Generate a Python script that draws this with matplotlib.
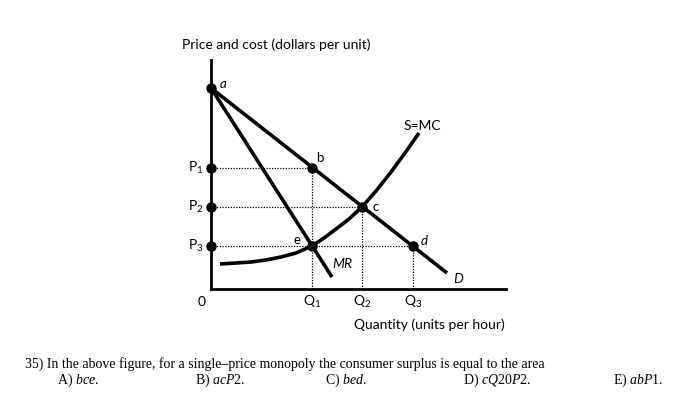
import matplotlib
matplotlib.use("Agg")
import matplotlib.pyplot as plt

# data (pixel-scale units)
D_x = [0, 236]; D_y = [201, 16]
MR_x = [0, 121]; MR_y = [201, 12]
MC_x = [9, 25, 40, 55, 70, 85, 101, 113, 125, 138, 151, 165, 180, 194, 208]
MC_y = [25, 26, 27, 29, 32, 36, 43, 51, 60, 70, 82, 98, 117, 136, 156]
pt_names = ["a", "b", "c", "d", "e"]
pt_x = [0, 101, 151, 202, 101]
pt_y = [201, 121, 82, 43, 43]
P_labels = ["1", "2", "3"]
P_vals = [121, 82, 43]
Q_labels = ["1", "2", "3"]
Q_vals = [101, 151, 202]

plt.rcParams['font.family'] = ['Lato', 'DejaVu Sans']
plt.rcParams['mathtext.fontset'] = 'custom'
plt.rcParams['mathtext.it'] = 'Liberation Serif:italic'
plt.rcParams['mathtext.rm'] = 'Liberation Serif'
plt.rcParams['mathtext.sf'] = 'Lato'
W, H = 700, 415
fig = plt.figure(figsize=(W/100, H/100), dpi=100)
ax = fig.add_axes([211/W, (H-289)/H, 295/W, 229/H])
ax.set_xlim(0, 295); ax.set_ylim(0, 229)
for s in ["top", "right"]:
    ax.spines[s].set_visible(False)
for s in ["left", "bottom"]:
    ax.spines[s].set_linewidth(2)
ax.set_xticks([]); ax.set_yticks([])

lw = 2.6
ax.plot(D_x, D_y, color="k", lw=lw, solid_capstyle="butt")
ax.plot(MR_x, MR_y, color="k", lw=lw, solid_capstyle="butt")
ax.plot(MC_x, MC_y, color="k", lw=lw, solid_capstyle="butt")

dot = dict(color="k", lw=0.9, ls=(0, (1, 1.2)))
right_end = {121: 101, 82: 151, 43: 202}
for p in P_vals:
    ax.plot([0, right_end[p]], [p, p], **dot)
    ax.plot([0], [p], "o", color="k", ms=6.5, clip_on=False)
for q, top in zip(Q_vals, [121, 82, 43]):
    ax.plot([q, q], [0, top], **dot)

ax.plot(pt_x, pt_y, "o", color="k", ms=6.5, clip_on=False, ls="none")
offs = {"a": (12, 4), "b": (8, 10), "c": (14, 0), "d": (11, 5), "e": (-15, 6)}
for n, x, y in zip(pt_names, pt_x, pt_y):
    dx, dy = offs[n]
    ax.text(x+dx, y+dy, n, fontsize=9.5, style="italic" if n in "ad" else "normal", va="center", ha="center")

for lab, p in zip(P_labels, P_vals):
    ax.text(-15, p, "$\\mathsf{P}_{\\mathsf{%s}}$" % lab, fontsize=10, ha="center", va="center")
for lab, q in zip(Q_labels, Q_vals):
    ax.text(q, -13, "$\\mathsf{Q}_{\\mathsf{%s}}$" % lab, fontsize=10, ha="center", va="center")
ax.text(-9, -13, "0", fontsize=10, ha="center", va="center")
ax.text(211, 163, "S=MC", fontsize=10, ha="center", va="center")
ax.text(131, 25, "MR", fontsize=10, ha="center", va="center", style="italic")
ax.text(247, 10, "D", fontsize=10, ha="center", va="center", style="italic")

fig.text(182/W, 1-45/H, "Price and cost (dollars per unit)", fontsize=10, va="center")
fig.text(354/W, 1-325/H, "Quantity (units per hour)", fontsize=10, va="center")

sf = ['Liberation Serif', 'DejaVu Serif']
fig.text(25/W, 1-364/H, "35) In the above figure, for a single\u2013price monopoly the consumer surplus is equal to the area",
         fontsize=10, family=sf, va="center")
ans = ["A) $bce$.", "B) $acP$2.", "C) $bed$.", "D) $cQ$2$0P$2.", "E) $abP$1."]
ans_x = [57, 195, 325, 463, 613]
for a, x in zip(ans, ans_x):
    fig.text(x/W, 1-380/H, a, fontsize=10, family=sf, va="center")

fig.savefig("out.png", dpi=100)
